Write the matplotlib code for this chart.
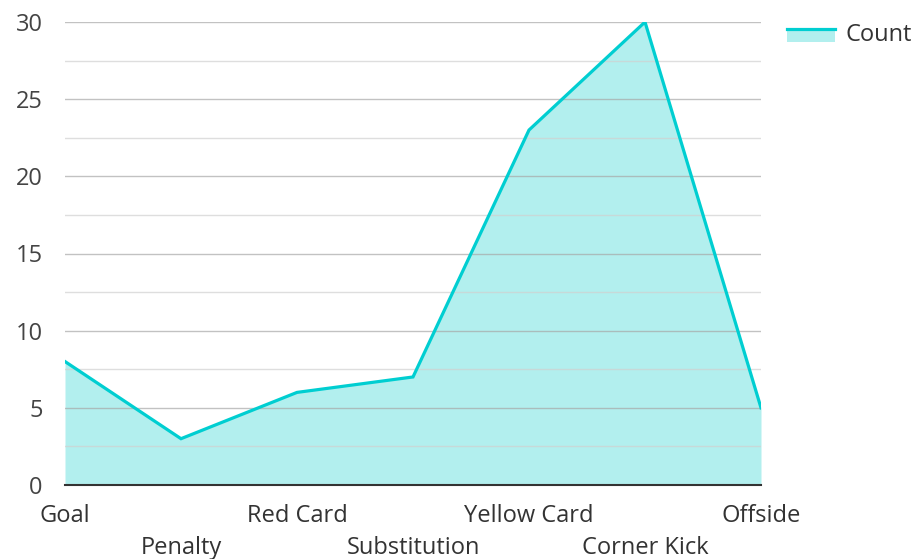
import matplotlib
matplotlib.use("Agg")
import matplotlib.pyplot as plt
from matplotlib.patches import Rectangle
from matplotlib.lines import Line2D

categories = ["Goal", "Penalty", "Red Card", "Substitution", "Yellow Card", "Corner Kick", "Offside"]
counts = [8, 3, 6, 7, 23, 30, 5]
series_name = "Count"

plt.rcParams['font.family'] = ['Open Sans', 'DejaVu Sans']

LINE = "#00CED1"
FILL = "#B2EFEE"
FS = 17

fig = plt.figure(figsize=(9.17, 5.59), dpi=100)
ax = fig.add_axes([65/917, 74/559, (761-65)/917, (485-22)/559])

x = list(range(len(categories)))
ax.fill_between(x, counts, 0, color=FILL, zorder=1, linewidth=0)
ax.plot(x, counts, color=LINE, linewidth=2.3, zorder=3, solid_joinstyle='miter')

ax.set_xlim(0, len(categories) - 1)
ax.set_ylim(0, 30)
ax.set_yticks([0, 5, 10, 15, 20, 25, 30])
ax.set_yticks([2.5, 7.5, 12.5, 17.5, 22.5, 27.5], minor=True)
ax.yaxis.grid(True, which='major', color='#a8a8a8', linewidth=1, alpha=0.7, zorder=2)
ax.yaxis.grid(True, which='minor', color='#d0d0d0', linewidth=1, alpha=0.7, zorder=2)
ax.set_axisbelow(False)
for s in ['top', 'right', 'left']:
    ax.spines[s].set_visible(False)
ax.spines['bottom'].set_color('#333333')
ax.spines['bottom'].set_linewidth(1.5)
ax.spines['bottom'].set_zorder(4)

even = [i for i in x if i % 2 == 0]
odd = [i for i in x if i % 2 == 1]
ax.set_xticks(even)
ax.set_xticklabels([categories[i] for i in even], fontsize=FS, color='#333333')
ax.set_xticks(odd, minor=True)
ax.set_xticklabels([categories[i] for i in odd], minor=True, fontsize=FS, color='#333333')
ax.tick_params(axis='x', which='major', length=0, pad=14)
ax.tick_params(axis='x', which='minor', length=0, pad=37)
ax.tick_params(axis='y', which='both', length=0, pad=16, labelsize=FS, labelcolor='#444444')


class AreaHandler:
    def legend_artist(self, legend, orig_handle, fontsize, handlebox):
        x0, y0 = handlebox.xdescent, handlebox.ydescent
        w, h = handlebox.width, handlebox.height
        tr = handlebox.get_transform()
        patch = Rectangle((x0, y0 - 1), w, h * 0.75 + 1, facecolor=FILL, edgecolor='none', transform=tr)
        line = Line2D([x0, x0 + w], [y0 + h * 0.75, y0 + h * 0.75], color=LINE, linewidth=2.3, transform=tr)
        handlebox.add_artist(patch)
        handlebox.add_artist(line)
        return patch


proxy = Rectangle((0, 0), 1, 1)
leg = fig.legend([proxy], [series_name], handler_map={Rectangle: AreaHandler()},
                 loc='upper left', bbox_to_anchor=(787/917, 1 - 23/559),
                 borderaxespad=0, borderpad=0,
                 frameon=False, fontsize=FS, handlelength=2.05, handletextpad=0.42)
for t in leg.get_texts():
    t.set_color('#333333')

fig.savefig("out.png", dpi=100)
